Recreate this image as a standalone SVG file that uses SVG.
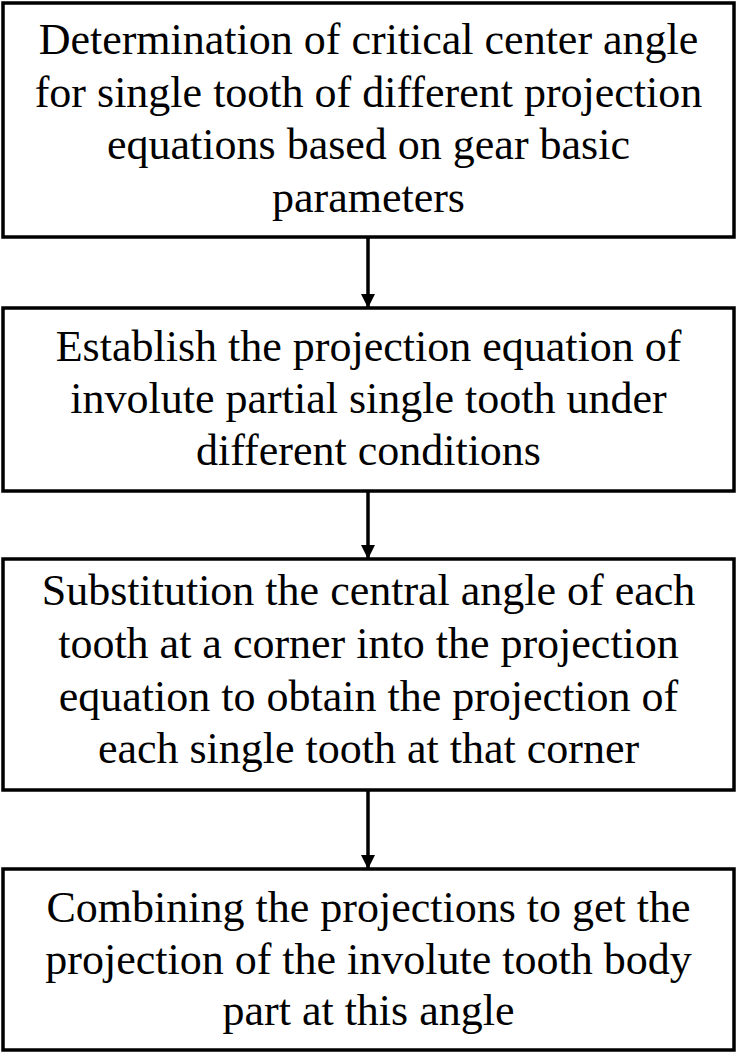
<svg xmlns="http://www.w3.org/2000/svg" width="737" height="1054" viewBox="0 0 737 1054">
<style>
.box{fill:#fff;stroke:#000;stroke-width:3.5}
.t{font-family:"Liberation Serif","Times New Roman",serif;font-size:44px;fill:#000;text-anchor:middle}
.c{stroke:#000;stroke-width:3.5;fill:none}
</style>
<defs>
<marker id="ah" markerWidth="14" markerHeight="14" refX="13" refY="7" orient="auto" markerUnits="userSpaceOnUse" viewBox="0 0 14 14">
<path d="M0,0 L14,7 L0,14 Z" fill="#000"/>
</marker>
</defs>
<rect width="737" height="1054" fill="#fff"/>
<g id="node1">
<rect class="box" x="3" y="3" width="731" height="234"/>
<text class="t" x="368.5" y="54">Determination of critical center angle</text>
<text class="t" x="368.5" y="106.5">for single tooth of different projection</text>
<text class="t" x="368.5" y="159">equations based on gear basic</text>
<text class="t" x="368.5" y="211.5">parameters</text>
</g>
<g id="node2">
<rect class="box" x="3" y="308" width="731" height="183"/>
<text class="t" x="368.5" y="361">Establish the projection equation of</text>
<text class="t" x="368.5" y="413">involute partial single tooth under</text>
<text class="t" x="368.5" y="465">different conditions</text>
</g>
<g id="node3">
<rect class="box" x="3" y="559" width="731" height="231"/>
<text class="t" x="368.5" y="605">Substitution the central angle of each</text>
<text class="t" x="368.5" y="658">tooth at a corner into the projection</text>
<text class="t" x="368.5" y="711">equation to obtain the projection of</text>
<text class="t" x="368.5" y="763">each single tooth at that corner</text>
</g>
<g id="node4">
<rect class="box" x="3" y="869" width="731" height="181"/>
<text class="t" x="368.5" y="922">Combining the projections to get the</text>
<text class="t" x="368.5" y="973.5">projection of the involute tooth body</text>
<text class="t" x="368.5" y="1025">part at this angle</text>
</g>
<g id="connectors">
<line class="c" x1="368" y1="237" x2="368" y2="307" marker-end="url(#ah)"/>
<line class="c" x1="368" y1="491" x2="368" y2="558" marker-end="url(#ah)"/>
<line class="c" x1="368" y1="790" x2="368" y2="868" marker-end="url(#ah)"/>
</g>
</svg>
